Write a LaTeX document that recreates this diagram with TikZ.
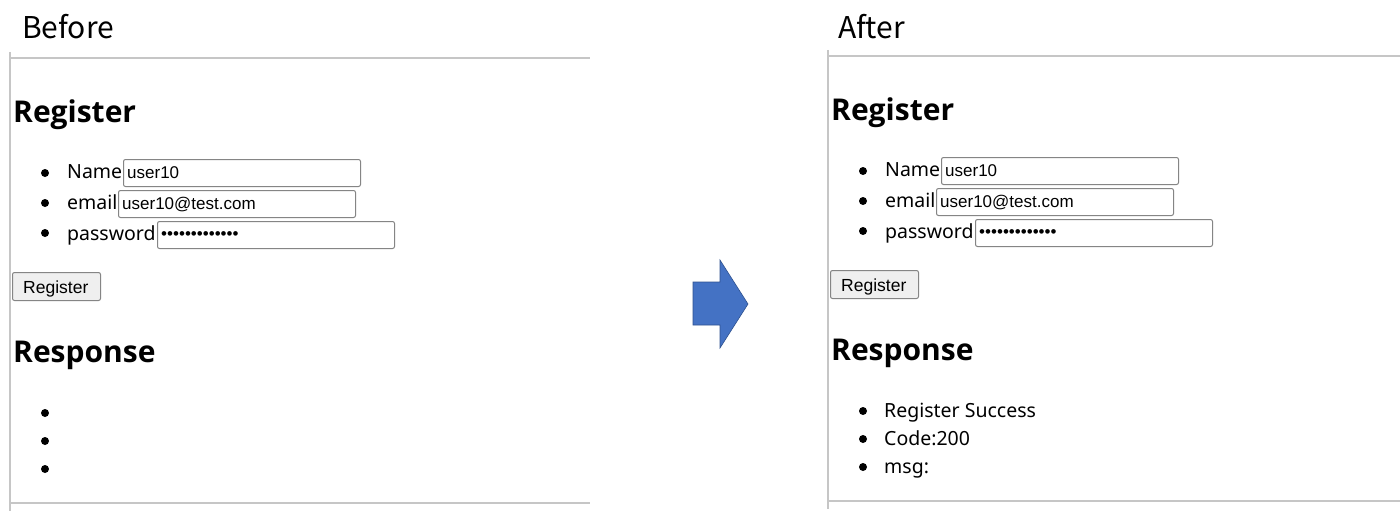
\documentclass[tikz,border=0pt]{standalone}
\usepackage{fontspec}
\setmainfont{Noto Sans}
\newfontfamily\headfont{Open Sans}
\newfontfamily\titlefont{Noto Sans CJK JP}
\newfontfamily\inputfont{Liberation Sans}
\definecolor{framegray}{HTML}{C6C6C6}
\definecolor{fieldgray}{HTML}{858585}
\definecolor{btnfill}{HTML}{EFEFEF}
\definecolor{arrowfill}{HTML}{4472C4}
\definecolor{arrowline}{HTML}{2F528F}
\tikzset{
  titletext/.style={anchor=base west, inner sep=0pt, font=\titlefont\fontsize{30}{32}\selectfont},
  headtext/.style={anchor=base west, inner sep=0pt, font=\headfont\bfseries\fontsize{30}{32}\selectfont},
  lbltext/.style={anchor=base west, inner sep=0pt, font=\fontsize{19.5}{21}\selectfont},
  valtext/.style={anchor=base west, inner sep=0pt, font=\inputfont\fontsize{17}{18}\selectfont},
  fieldbox/.style={draw=fieldgray, line width=1pt, rounded corners=2pt, anchor=north west,
    inner sep=0pt, minimum width=237pt, minimum height=27pt},
  btnbox/.style={draw=fieldgray, fill=btnfill, line width=1pt, rounded corners=2pt, anchor=north west,
    inner sep=0pt, minimum width=88pt, minimum height=28pt},
  bul/.style={circle, fill=black, inner sep=0pt, minimum size=8pt},
  frameline/.style={draw=framegray, line width=2pt},
}
\newcommand{\regform}[1]{%
  \draw[frameline] (10,52) coordinate (#1vt) -- (10,511) coordinate (#1vb);
  \node[headtext] (#1reg) at (13,122) {Register};
  \node[bul] (#1b1) at (45,173) {};
  \node[bul] (#1b2) at (45,203) {};
  \node[bul] (#1b3) at (45,233) {};
  \node[lbltext] (#1lname) at (67,178) {Name};
  \node[lbltext] (#1lmail) at (67,209) {email};
  \node[lbltext] (#1lpass) at (67,240) {password};
  \node[fieldbox] (#1fname) at (123,159) {};
  \node[fieldbox] (#1fmail) at (118,190) {};
  \node[fieldbox] (#1fpass) at (157,221) {};
  \node[valtext] (#1vname) at (127,178) {user10};
  \node[valtext] (#1vmail) at (122,209) {user10@test.com};
  \node[valtext] (#1vpass) at (161,239) {•••••••••••••};
  \node[btnbox] (#1btn) at (12,272) {};
  \node[valtext, font=\inputfont\fontsize{17.5}{18}\selectfont] (#1btntext) at (23,293) {Register};
  \node[headtext] (#1resp) at (13,362) {Response};
  \node[bul] (#1r1) at (45,413) {};
  \node[bul] (#1r2) at (45,441) {};
  \node[bul] (#1r3) at (45,469) {};
}
\begin{document}
\begin{tikzpicture}[x=1pt,y=-1pt]
\path[use as bounding box, fill=white] (0,0) rectangle (1400,511);
% Before panel
\node[titletext] (before) at (22,39) {Before};
\regform{L}
\draw[frameline] (10,58) coordinate (Ltl) -- (590,58) coordinate (Ltr);
\draw[frameline] (10,503) coordinate (Lbl) -- (590,503) coordinate (Lbr);
% After panel
\node[titletext] (after) at (838,39) {After};
\begin{scope}[shift={(818,-2)}]
\regform{R}
\draw[frameline] (10,58) coordinate (Rtl) -- (582,58) coordinate (Rtr);
\draw[frameline] (10,503) coordinate (Rbl) -- (582,503) coordinate (Rbr);
\node[lbltext] (rs1) at (66,419) {Register Success};
\node[lbltext] (rs2) at (66,447) {Code:200};
\node[lbltext] (rs3) at (66,475) {msg:};
\end{scope}
% Arrow
\draw[fill=arrowfill, draw=arrowline, line width=0.6pt]
  (693,282) -- (720,282) -- (720,260) -- (748,304) -- (720,348) -- (720,325) -- (693,325) -- cycle;
\end{tikzpicture}
\end{document}
